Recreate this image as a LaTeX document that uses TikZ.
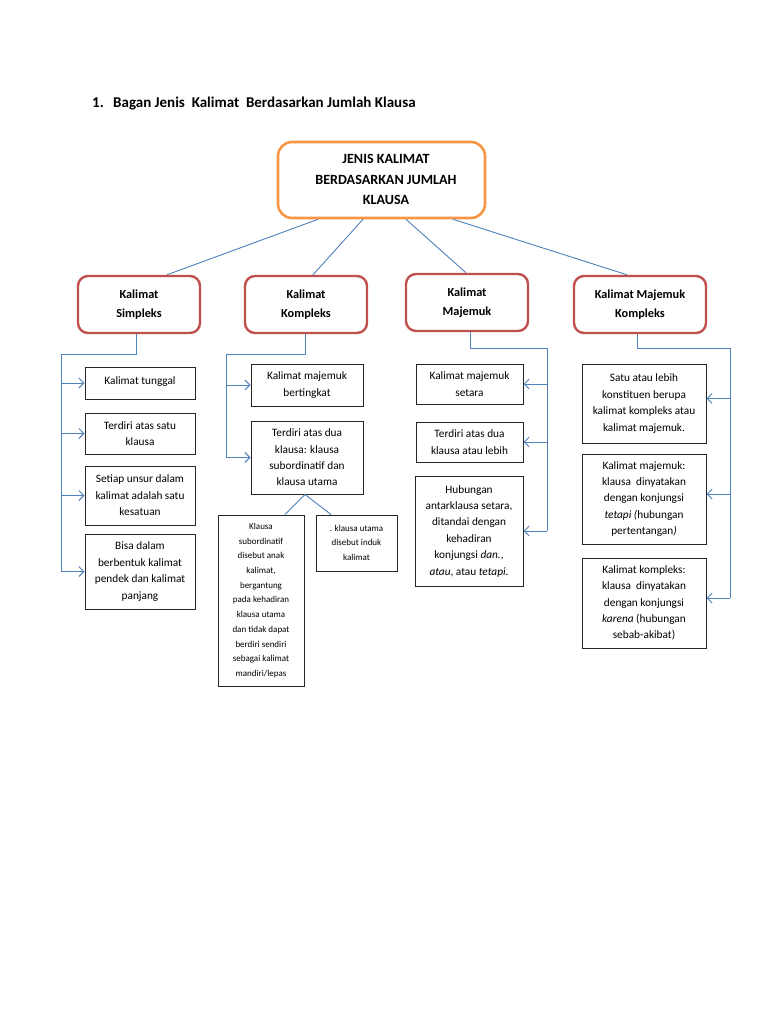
\documentclass[tikz,border=0pt]{standalone}
\usepackage{fontspec}
\setmainfont{Carlito}
\usetikzlibrary{arrows.meta,calc}
\definecolor{topor}{RGB}{247,150,70}
\definecolor{redb}{RGB}{192,80,77}
\definecolor{conb}{RGB}{79,129,189}
\tikzset{
  topbox/.style={draw=topor,line width=2.6pt,rounded corners=14pt,fill=white,inner sep=0pt,align=center,font=\fontsize{14.1}{20.2}\selectfont\bfseries},
  lvlbox/.style={draw=redb,line width=2.4pt,rounded corners=10pt,fill=white,inner sep=0pt,align=center,font=\fontsize{12.3}{19}\selectfont\bfseries},
  leaf/.style={draw=black!85,line width=1pt,fill=white,inner sep=0pt,align=center,font=\fontsize{11.3}{16.4}\selectfont},
  smallleaf/.style={draw=black!85,line width=1pt,fill=white,inner sep=0pt,align=center,font=\fontsize{9}{14.7}\selectfont},
  conn/.style={draw=conb,line width=0.9pt},
  arr/.style={conn,-{Straight Barb[length=5pt,width=10pt]}},
}
\begin{document}
\begin{tikzpicture}[x=1pt,y=-1pt]
\useasboundingbox (0,0) rectangle (768,1024);
\fill[white] (0,0) rectangle (768,1024);
% title
\node[anchor=base west,inner sep=0pt,font=\fontsize{15}{18}\selectfont\bfseries] (title) at (92,108) {\makebox[21pt][l]{1.}Bagan Jenis\ \ Kalimat\ \ Berdasarkan Jumlah Klausa};
% top
\node[topbox,minimum width=207pt,minimum height=76pt] (top) at (381.5,180) {\hspace*{9pt}\raisebox{-3pt}{\begin{tabular}{@{}c@{}}JENIS KALIMAT\\BERDASARKAN JUMLAH\\KLAUSA\end{tabular}}};
% level 2
\node[lvlbox,minimum width=122pt,minimum height=57pt] (sim) at (139,304.5) {Kalimat\\Simpleks};
\node[lvlbox,minimum width=122pt,minimum height=57pt] (kom) at (306,304.5) {Kalimat\\Kompleks};
\node[lvlbox,minimum width=122pt,minimum height=57pt] (maj) at (467,302.5) {Kalimat\\Majemuk};
\node[lvlbox,minimum width=132pt,minimum height=57pt] (mk) at (640,304.5) {Kalimat Majemuk\\Kompleks};
% connectors top
\draw[conn] ([xshift=-63.5pt]top.south) -- ([xshift=28pt]sim.north);
\draw[conn] ([xshift=-18.5pt]top.south) -- ([xshift=7pt]kom.north);
\draw[conn] ([xshift=24.5pt]top.south) -- ([xshift=-1pt]maj.north);
\draw[conn] ([xshift=71.5pt]top.south) -- ([xshift=-13pt]mk.north);
% simpleks leaves
\node[leaf,minimum width=110pt,minimum height=32pt] (s1) at (140,383) {\raisebox{4pt}{Kalimat tunggal}};
\node[leaf,minimum width=110pt,minimum height=41pt] (s2) at (140,433.5) {Terdiri atas satu\\klausa};
\node[leaf,minimum width=110pt,minimum height=59pt] (s3) at (140,495.5) {Setiap unsur dalam\\kalimat adalah satu\\kesatuan};
\node[leaf,minimum width=110pt,minimum height=75pt] (s4) at (140,571.5) {Bisa dalam\\berbentuk kalimat\\pendek dan kalimat\\panjang};
\coordinate (sbus) at (61,354);
\draw[conn] ([xshift=-3pt]sim.south) |- (sbus) -- (sbus |- s4.west);
\foreach \n in {s1,s2,s3,s4} \draw[arr] (sbus |- \n.west) -- (\n.west);
% kompleks leaves
\node[leaf,minimum width=112pt,minimum height=42pt] (k1) at (307,385) {Kalimat majemuk\\bertingkat};
\node[leaf,minimum width=112pt,minimum height=73pt] (k2) at (307,457.5) {Terdiri atas dua\\klausa: klausa\\subordinatif dan\\klausa utama};
\node[smallleaf,minimum width=86pt,minimum height=171pt] (k3) at (261,600.5) {Klausa\\subordinatif\\disebut anak\\kalimat,\\bergantung\\pada kehadiran\\klausa utama\\dan tidak dapat\\berdiri sendiri\\sebagai kalimat\\mandiri/lepas};
\node[smallleaf,minimum width=81pt,minimum height=56pt] (k4) at (356.5,543) {\raisebox{2pt}{\begin{tabular}{@{}c@{}}. klausa utama\\disebut induk\\kalimat\end{tabular}}};
\coordinate (kbus) at (226,354);
\draw[conn] ([xshift=-1pt]kom.south) |- (kbus) -- (kbus |- k2.west);
\foreach \n in {k1,k2} \draw[arr] (kbus |- \n.west) -- (\n.west);
\draw[conn] ([xshift=-2pt]k2.south) -- ([xshift=24pt]k3.north);
\draw[conn] ([xshift=-2pt]k2.south) -- ([xshift=-25.5pt]k4.north);
% majemuk leaves
\node[leaf,minimum width=107pt,minimum height=40pt] (m1) at (469.5,384) {Kalimat majemuk\\setara};
\node[leaf,minimum width=107pt,minimum height=40pt] (m2) at (469.5,442) {Terdiri atas dua\\klausa atau lebih};
\node[leaf,minimum width=108pt,minimum height=110pt] (m3) at (469,531) {Hubungan\\antarklausa setara,\\ditandai dengan\\kehadiran\\konjungsi \textit{dan.},\\\textit{atau}, atau \textit{tetapi}.};
\coordinate (mbus) at (547,348);
\draw[conn] ([xshift=3pt]maj.south) |- (mbus) -- (mbus |- m3.east);
\foreach \n in {m1,m2,m3} \draw[arr] (mbus |- \n.east) -- (\n.east);
% majemuk kompleks leaves
\node[leaf,minimum width=124pt,minimum height=79pt] (x1) at (644,403.5) {Satu atau lebih\\konstituen berupa\\kalimat kompleks atau\\kalimat majemuk.};
\node[leaf,minimum width=124pt,minimum height=90pt] (x2) at (644,499) {Kalimat majemuk:\\klausa\ \ dinyatakan\\dengan konjungsi\\\textit{tetapi (}hubungan\\pertentangan\textit{)}};
\node[leaf,minimum width=124pt,minimum height=90pt] (x3) at (644,603) {Kalimat kompleks:\\klausa\ \ dinyatakan\\dengan konjungsi\\\textit{karena} (hubungan\\sebab-akibat)};
\coordinate (xbus) at (730,348);
\foreach \n in {x1,x2,x3} \coordinate (\n a) at ([yshift=5pt]\n.east);
\draw[conn] ([xshift=-3pt]mk.south) |- (xbus) -- (xbus |- x3a);
\foreach \n in {x1,x2,x3} \draw[arr] (xbus |- \n a) -- (\n a);
\end{tikzpicture}
\end{document}
